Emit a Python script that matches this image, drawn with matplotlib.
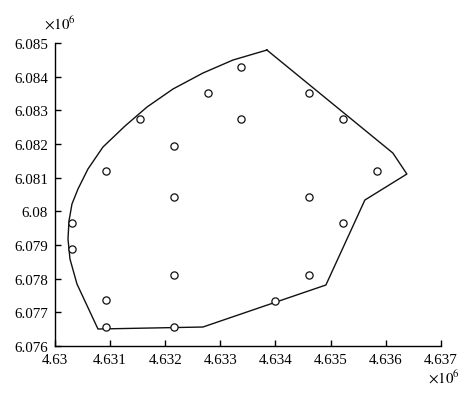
import matplotlib
matplotlib.use("Agg")
import matplotlib.pyplot as plt
from matplotlib.ticker import FuncFormatter

# coordinates in units of 1e6 (as shown on the axes)
pts_x = [4.630308, 4.630308, 4.630925, 4.630925, 4.630925, 4.631542, 4.632158,
         4.632158, 4.632158, 4.632158, 4.632775, 4.633373, 4.633373, 4.633990,
         4.634606, 4.634606, 4.634606, 4.635223, 4.635223, 4.635839]
pts_y = [6.079653, 6.078881, 6.077366, 6.076564, 6.081197, 6.082742, 6.081940,
         6.080425, 6.078109, 6.076564, 6.083514, 6.082742, 6.084286, 6.077337,
         6.083514, 6.080425, 6.078109, 6.082742, 6.079653, 6.081197]

# boundary polygon
bnd_x = [4.633845, 4.636130, 4.636384, 4.635622, 4.634915, 4.632684, 4.630780,
         4.630399, 4.630272, 4.630236, 4.630254, 4.630308, 4.630417, 4.630598,
         4.630870, 4.631270, 4.631669, 4.632140, 4.632684, 4.633228, 4.633845]
bnd_y = [6.084791, 6.081732, 6.081108, 6.080336, 6.077812, 6.076564, 6.076505,
         6.077841, 6.078584, 6.079178, 6.079712, 6.080217, 6.080663, 6.081257,
         6.081910, 6.082534, 6.083098, 6.083633, 6.084108, 6.084494, 6.084791]

xticks = [4.630, 4.631, 4.632, 4.633, 4.634, 4.635, 4.636, 4.637]
yticks = [6.076, 6.077, 6.078, 6.079, 6.080, 6.081, 6.082, 6.083, 6.084, 6.085]

plt.rcParams["font.family"] = ["Liberation Serif", "DejaVu Serif"]
plt.rcParams["mathtext.fontset"] = "stix"

fig = plt.figure(figsize=(4.74, 4.06), dpi=100)
ax = fig.add_axes([0.116, 0.1453, 0.814, 0.7463])

ax.plot(bnd_x, bnd_y, color="#111111", lw=1.0)
ax.plot(pts_x, pts_y, "o", mfc="white", mec="#111111", ms=5.2, mew=0.9)

ax.set_xlim(4.630, 4.637)
ax.set_ylim(6.076, 6.085)
ax.set_xticks(xticks)
ax.set_yticks(yticks)
fmt = FuncFormatter(lambda v, p: "%g" % round(v, 4))
ax.xaxis.set_major_formatter(fmt)
ax.yaxis.set_major_formatter(fmt)
ax.tick_params(direction="in", length=4, width=1, labelsize=10.8, pad=5)

for s in ["top", "right"]:
    ax.spines[s].set_visible(False)
for s in ["left", "bottom"]:
    ax.spines[s].set_linewidth(1.0)

fig.text(0.092, 0.92, r"$\times10^6$", fontsize=10.8, ha="left", va="bottom")
fig.text(0.903, 0.047, r"$\times10^6$", fontsize=10.8, ha="left", va="bottom")

fig.savefig("out.png", dpi=100)
